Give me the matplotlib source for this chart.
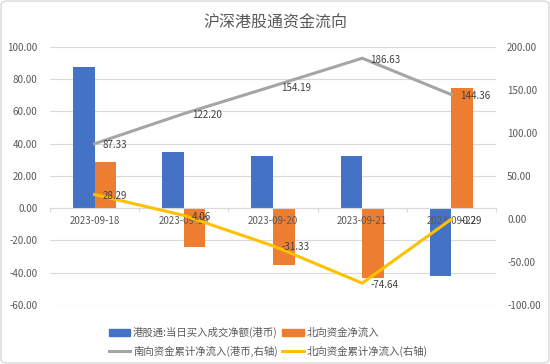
import numpy as np
import matplotlib
matplotlib.use("Agg")
import matplotlib.pyplot as plt
from matplotlib.patches import FancyBboxPatch, Patch
from matplotlib.lines import Line2D

plt.rcParams['font.family'] = ['Noto Sans CJK SC', 'DejaVu Sans']

dates = ["2023-09-18", "2023-09-19", "2023-09-20", "2023-09-21", "2023-09-22"]
south_daily = [87.33, 34.87, 31.99, 32.44, -42.27]     # 港股通:当日买入成交净额(港币)
north_daily = [28.29, -24.23, -35.39, -43.31, 74.35]   # 北向资金净流入
south_cum = [87.33, 122.20, 154.19, 186.63, 144.36]    # 南向资金累计净流入(港币,右轴)
north_cum = [28.29, 4.06, -31.33, -74.64, -0.29]       # 北向资金累计净流入(右轴)

left_ticks = [-60, -40, -20, 0, 20, 40, 60, 80, 100]
right_ticks = [-100, -50, 0, 50, 100, 150, 200]

c_blue = "#4472C4"
c_orange = "#ED7D31"
c_gray = "#A5A5A5"
c_yellow = "#FFC000"
c_grid = "#D9D9D9"
c_text = "#595959"

fig = plt.figure(figsize=(5.5, 3.64), dpi=100)
W, H = 550, 364
x0, x1, ytop, ybot = 50, 496, 46.7, 305
ax = fig.add_axes([x0 / W, 1 - ybot / H, (x1 - x0) / W, (ybot - ytop) / H])
ax2 = ax.twinx()

x = np.arange(len(dates))
w = 0.242
ax.bar(x - w / 2, south_daily, w, color=c_blue, zorder=2)
ax.bar(x + w / 2, north_daily, w, color=c_orange, zorder=2)

ax.set_xlim(-0.5, len(dates) - 0.5)
ax.set_ylim(-60, 100)
ax.set_yticks(left_ticks)
ax.set_yticklabels([f"{v:.2f}" for v in left_ticks])
ax.grid(axis='y', color=c_grid, lw=0.8, zorder=0)
ax.set_axisbelow(True)
for s in ['top', 'left', 'right']:
    ax.spines[s].set_visible(False)
ax.spines['bottom'].set_position(('data', 0))
ax.spines['bottom'].set_color(c_grid)
ax.spines['bottom'].set_linewidth(0.8)
ax.set_xticks(x)
ax.set_xticklabels([])
ax.set_xticks(np.arange(-0.5, len(dates)), minor=True)
ax.tick_params(axis='x', which='major', length=0)
ax.tick_params(axis='x', which='minor', length=3, color=c_grid, width=0.8)
ax.tick_params(axis='y', length=0, pad=9, labelsize=7, labelcolor=c_text)

# category labels sit on the zero line, over the bars
for i, d in enumerate(dates):
    ax.annotate(d, (i, 0), xytext=(0, -5.5), textcoords='offset points',
                ha='center', va='top', fontsize=7, color=c_text, zorder=5)

ax2.plot(x, south_cum, color=c_gray, lw=2.2, zorder=3)
ax2.plot(x, north_cum, color=c_yellow, lw=2.2, zorder=3)
ax2.set_ylim(-100, 200)
ax2.set_yticks(right_ticks)
ax2.set_yticklabels([f"{v:.2f}" for v in right_ticks])
ax2.tick_params(axis='y', length=0, pad=8, labelsize=7, labelcolor=c_text)
for s in ax2.spines.values():
    s.set_visible(False)

for series in (south_cum, north_cum):
    for i, v in enumerate(series):
        ax2.annotate(f"{v:.2f}", (i, v), xytext=(6, -1), textcoords='offset points',
                     ha='left', va='center', fontsize=7, color='#404040', zorder=4)

fig.text(0.5, 1 - 22.8 / H, "沪深港股通资金流向", ha='center', va='center',
         fontsize=11.5, color=c_text)

handles = [Patch(color=c_blue), Line2D([], [], color=c_gray, lw=2.2),
           Patch(color=c_orange), Line2D([], [], color=c_yellow, lw=2.2)]
labels = ["港股通:当日买入成交净额(港币)", "南向资金累计净流入(港币,右轴)",
          "北向资金净流入", "北向资金累计净流入(右轴)"]
fig.legend(handles, labels, ncol=2, loc='center', bbox_to_anchor=(268 / W, 1 - 342 / H),
           frameon=False, fontsize=7.5, handlelength=2.1, handleheight=0.6,
           handletextpad=0.25, columnspacing=0.4, labelspacing=0.75,
           labelcolor=c_text)

fig.patches.append(FancyBboxPatch((0.002, 0.003), 0.996, 0.994,
                                  boxstyle='round,pad=0,rounding_size=0.01',
                                  transform=fig.transFigure, fc='none',
                                  ec=c_grid, lw=1))

fig.savefig("out.png", dpi=100)
